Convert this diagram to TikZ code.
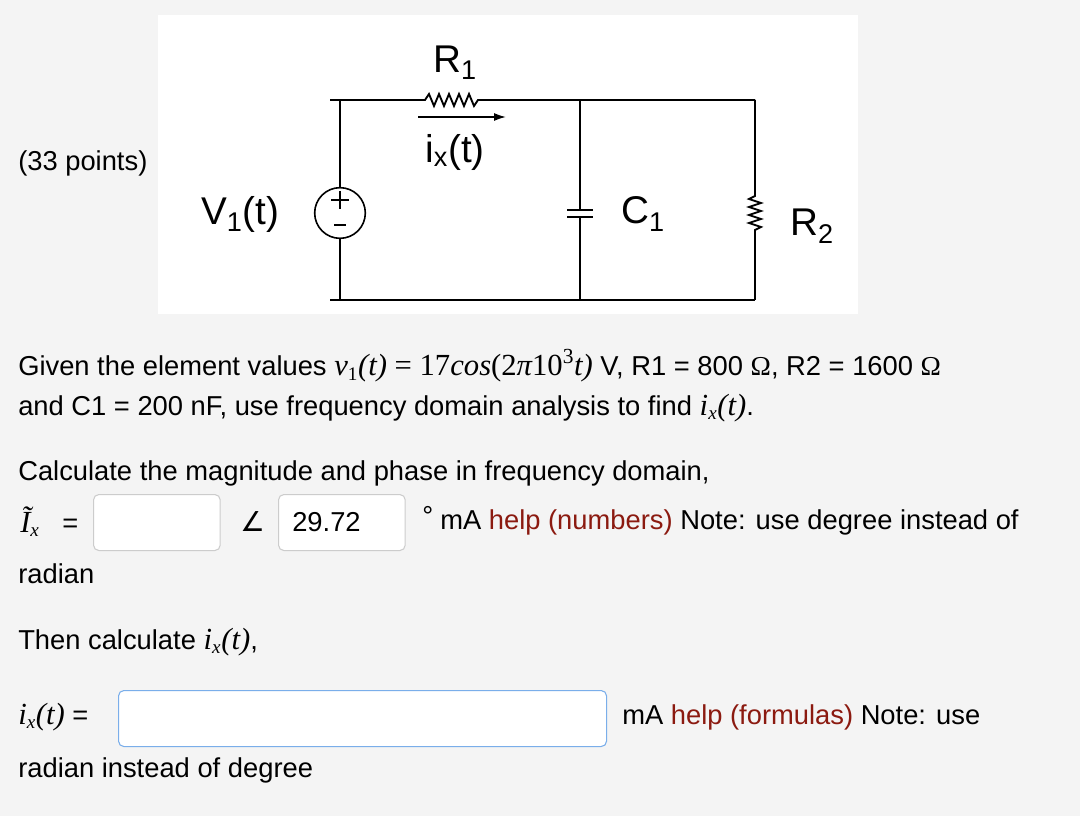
\documentclass[tikz,border=0pt]{standalone}
\usepackage{fontspec}
\setmainfont{Liberation Sans}
\newfontfamily\ser{Liberation Serif}
\usetikzlibrary{arrows.meta}
\definecolor{bg}{HTML}{F4F4F4}
\definecolor{hlp}{HTML}{8B1A10}
\definecolor{bxb}{HTML}{CCCCCC}
\definecolor{blu}{HTML}{7AAEEA}
\newcommand{\mi}[1]{{\ser\itshape\fontsize{23}{24}\selectfont #1}}
\newcommand{\sbx}{\textsubscript{\ser\itshape x}}
\begin{document}
\begin{tikzpicture}[x=0.75pt,y=-0.75pt,
  txt/.style={anchor=west,inner sep=0pt,font=\fontsize{20.5}{24}\selectfont},
  lbl/.style={inner sep=0pt,font=\fontsize{29}{32}\selectfont},
  wire/.style={line width=1.4pt},
  inbox/.style={draw=bxb,fill=white,rounded corners=4pt,line width=0.8pt}]
\fill[bg] (0,0) rectangle (1080,816);
\useasboundingbox (0,0) rectangle (1080,816);
\fill[white] (158,15) rectangle (858,314);
% circuit
\coordinate (tl) at (330,100); \coordinate (tm) at (580,100); \coordinate (tr) at (755,100);
\coordinate (bl) at (330,300); \coordinate (bm) at (580,300); \coordinate (br) at (755,300);
\node[draw,circle,line width=1.2pt,minimum size=38pt,fill=white] (src) at (340,213) {};
\draw[wire] (bl) -- (br) (tm) -- (bm);
\draw[wire] (tl) -- (425,100) -- (429,94) -- (434,106) -- (439,94) -- (444,106) -- (449,94) -- (454,106) -- (459,94) -- (464,106) -- (469,94) -- (474,106) -- (478,100) -- (tr);
\draw[wire] (tl) -- (340,100) -- (src.north) (src.south) -- (340,300);
\draw[line width=1.6pt] (331,200) -- (349,200) (340,191) -- (340,209) (334,225) -- (346,225);
\draw[wire] (tr) -- (755,196) -- (749,199) -- (761,203) -- (749,207) -- (761,211) -- (749,215) -- (761,219) -- (749,223) -- (761,227) -- (755,230) -- (br);
\fill[white] (565,210) rectangle (595,217);
\draw[line width=1.2pt] (567,210) -- (593,210) (567,217) -- (593,217);
\draw[line width=1.2pt,-{Latex[length=9pt,width=6pt]}] (418,117) -- (506,117);
\node[lbl] (r1) at (455,63) {R\textsubscript{1}};
\node[lbl] (ix) at (455,152) {i\textsubscript{x}(t)};
\node[lbl] (v1) at (240,214) {V\textsubscript{1}(t)};
\node[lbl] (c1) at (643,214) {C\textsubscript{1}};
\node[lbl] (r2) at (812,226) {R\textsubscript{2}};
% text
\node[txt] (pts) at (18,163) {(33 points)};
\node[txt] (l1) at (18,366) {Given the element values \mi{v}\textsubscript{\ser 1}\mi{(t)} {\ser\fontsize{23}{24}\selectfont = 17}\mi{cos}{\ser\fontsize{23}{24}\selectfont(2}\mi{π}{\ser\fontsize{23}{24}\selectfont10\textsuperscript{3}}\mi{t)} V, R1 = 800 {\ser Ω}, R2 = 1600 {\ser Ω}};
\node[txt] (l2) at (18,408) {and C1 = 200 nF, use frequency domain analysis to find \mi{i}\sbx\mi{(t)}.};
\node[txt] (l3) at (18,473) {Calculate the magnitude and phase in frequency domain,};
\node[txt] (ixt) at (20,522) {\mi{\~I}\sbx\;\; =};
\node[inbox,minimum width=95pt,minimum height=42pt,anchor=north west] (b1) at (93,494) {};
\node[txt] (ang) at (240,522) {{\fontspec{DejaVu Sans}∠}};
\node[inbox,minimum width=95pt,minimum height=42pt,anchor=north west] (b2) at (278,494) {};
\node[txt] at (292,522) {29.72};
\node[txt] (deg) at (422,516) {°};
\node[txt] at (440,522) {mA \textcolor{hlp}{help (numbers)} Note: use degree instead of};
\node[txt] at (18,574) {radian};
\node[txt] at (18,642) {Then calculate \mi{i}\sbx\mi{(t)},};
\node[txt] at (18,717) {\mi{i}\sbx\mi{(t)} =};
\node[inbox,draw=blu,minimum width=366pt,minimum height=42pt,anchor=north west] (b3) at (118,690) {};
\node[txt] at (622,717) {mA \textcolor{hlp}{help (formulas)} Note: use};
\node[txt] at (18,770) {radian instead of degree};
\end{tikzpicture}
\end{document}
